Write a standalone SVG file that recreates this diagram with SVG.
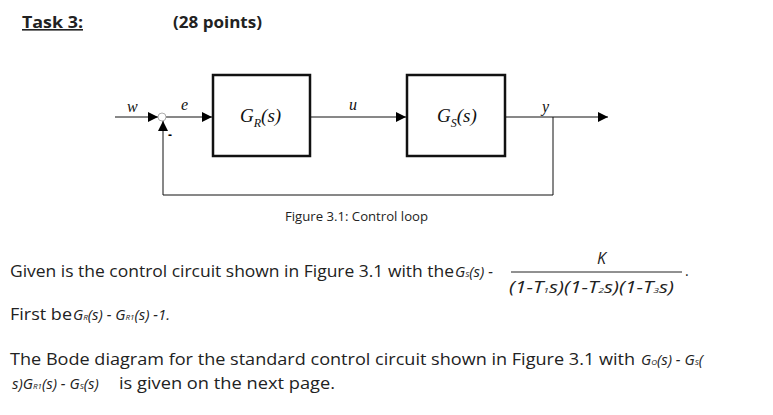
<svg xmlns="http://www.w3.org/2000/svg" width="773" height="415" viewBox="0 0 773 415">
<style>
.t{font-family:"Open Sans","Noto Sans",sans-serif;fill:#222}
.m{font-family:"Liberation Serif",serif;font-style:italic;fill:#111}
.i{font-family:"Open Sans",sans-serif;font-style:italic;fill:#222}
.l{stroke:#111;stroke-width:1;fill:none}
.b{stroke:#111;stroke-width:2.5;fill:#fff}
</style>
<defs><marker id="a" viewBox="0 0 10 10" refX="10" refY="5" markerWidth="10" markerHeight="10" markerUnits="userSpaceOnUse" orient="auto"><path d="M0,0L10,5L0,10z" fill="#000"/></marker></defs>
<rect width="773" height="415" fill="#fff"/>
<text x="22" y="28" class="t" font-size="16" font-weight="bold" text-decoration="underline" textLength="61" lengthAdjust="spacingAndGlyphs">Task 3:</text>
<text x="173" y="28" class="t" font-size="15.5" font-weight="bold" textLength="89" lengthAdjust="spacingAndGlyphs">(28 points)</text>
<g id="conn">
<line x1="115" y1="117" x2="158" y2="117" class="l" marker-end="url(#a)"/>
<line x1="166" y1="117" x2="212" y2="117" class="l" marker-end="url(#a)"/>
<line x1="311" y1="117" x2="406" y2="117" class="l" marker-end="url(#a)"/>
<line x1="506" y1="117" x2="608" y2="117" class="l" marker-end="url(#a)"/>
<polyline points="553,117 553,195 163,195 163,121" class="l" marker-end="url(#a)"/>
</g>
<g id="sum"><circle cx="162" cy="117" r="4" fill="#fff" stroke="#999" stroke-width="0.8"/><text x="168" y="139" font-family="Liberation Sans,sans-serif" font-size="12" font-weight="bold">-</text></g>
<g id="GR"><rect x="213" y="75" width="97" height="81" class="b"/><text x="240" y="122" class="m" font-size="19">G<tspan font-size="12" dy="5">R</tspan><tspan dy="-5">(s)</tspan></text></g>
<g id="GS"><rect x="407" y="75" width="98" height="81" class="b"/><text x="437" y="122" class="m" font-size="19">G<tspan font-size="12" dy="5">S</tspan><tspan dy="-5">(s)</tspan></text></g>
<text x="127" y="112" class="m" font-size="16">w</text>
<text x="181" y="110" class="m" font-size="16">e</text>
<text x="349" y="110" class="m" font-size="16">u</text>
<text x="542" y="112" class="m" font-size="16">y</text>
<text x="285" y="221" class="t" font-size="12" textLength="143" lengthAdjust="spacingAndGlyphs">Figure 3.1: Control loop</text>
<text x="10" y="277" class="t" font-size="16.5" textLength="444" lengthAdjust="spacingAndGlyphs">Given is the control circuit shown in Figure 3.1 with the</text>
<text x="455" y="277" class="i" font-size="15">G<tspan font-size="8">S</tspan>(s) -</text>
<text x="597" y="264" class="i" font-size="16">K</text>
<line x1="511" y1="272" x2="682" y2="272" stroke="#222" stroke-width="1"/>
<text x="685" y="276" class="t" font-size="14">.</text>
<text x="509" y="293" class="i" font-size="16" textLength="165" lengthAdjust="spacingAndGlyphs">(1-T<tspan font-size="8">1</tspan>s)(1-T<tspan font-size="8">2</tspan>s)(1-T<tspan font-size="8">3</tspan>s)</text>
<text x="10" y="320" class="t" font-size="16.5" textLength="62" lengthAdjust="spacingAndGlyphs">First be</text>
<text x="73" y="320" class="i" font-size="15">G<tspan font-size="8">R</tspan>(s) - G<tspan font-size="8">R1</tspan>(s) -1.</text>
<text x="10" y="365" class="t" font-size="17" textLength="625" lengthAdjust="spacingAndGlyphs">The Bode diagram for the standard control circuit shown in Figure 3.1 with</text>
<text x="641" y="365" class="i" font-size="15">G<tspan font-size="8">O</tspan>(s) - G<tspan font-size="8">S</tspan>(</text>
<text x="12" y="389" class="i" font-size="15">s)G<tspan font-size="8">R1</tspan>(s) - G<tspan font-size="8">S</tspan>(s)</text>
<text x="119" y="389" class="t" font-size="17" textLength="216" lengthAdjust="spacingAndGlyphs">is given on the next page.</text>
</svg>
